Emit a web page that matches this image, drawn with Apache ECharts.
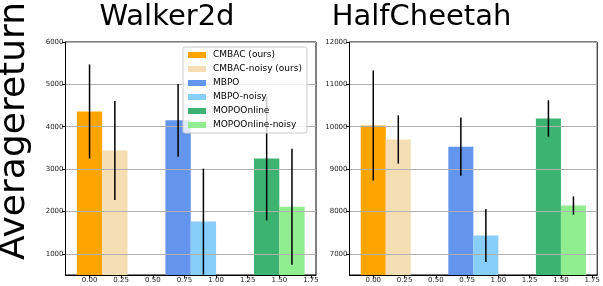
<!DOCTYPE html>
<html>
<head>
<meta charset="utf-8">
<style>
  html, body { margin: 0; padding: 0; background: #fff; }
  #chart { width: 603px; height: 286px; }
</style>
<script src="https://cdn.jsdelivr.net/npm/echarts@6/dist/echarts.min.js"></script>
</head>
<body>
<div id="chart"></div>
<script>
// methods and bar positions (bar width 0.2)
var methods = ['CMBAC (ours)', 'CMBAC-noisy (ours)', 'MBPO', 'MBPO-noisy', 'MOPOOnline', 'MOPOOnline-noisy'];
var colors = ['#FFA500', '#F5DEB3', '#6495ED', '#87CEFA', '#3CB371', '#90EE90'];
var xPos = [0, 0.2, 0.7, 0.9, 1.4, 1.6];
var xTicks = [0, 0.25, 0.5, 0.75, 1, 1.25, 1.5, 1.75];

// Walker2d
var walkerMean = [4360, 3440, 4150, 1760, 3250, 2110];
var walkerErr = [1110, 1170, 860, 1250, 1460, 1370];
var walkerTicks = [1000, 2000, 3000, 4000, 5000, 6000];

// HalfCheetah
var cheetahMean = [10030, 9700, 9530, 7430, 10195, 8140];
var cheetahErr = [1300, 570, 690, 625, 430, 215];
var cheetahTicks = [7000, 8000, 9000, 10000, 11000, 12000];

var BAR_W = 0.2;

var chart = echarts.init(document.getElementById('chart'));

function barItem(params, api) {
    var x = api.value(0), y = api.value(1);
    var p0 = api.coord([x - BAR_W / 2, y]);
    var p1 = api.coord([x + BAR_W / 2, y]);
    var cs = params.coordSys;
    var bottom = cs.y + cs.height;
    return {
        type: 'rect',
        shape: { x: p0[0], y: p0[1], width: p1[0] - p0[0], height: bottom - p0[1] },
        style: { fill: api.visual('color') }
    };
}

function errItem(params, api) {
    var x = api.value(0), m = api.value(1), e = api.value(2);
    var a = api.coord([x, m - e]);
    var b = api.coord([x, m + e]);
    return {
        type: 'line',
        shape: { x1: a[0], y1: a[1], x2: b[0], y2: b[1] },
        style: { stroke: '#000', lineWidth: 1.5 }
    };
}

function xAxisFor(idx) {
    return {
        type: 'value', gridIndex: idx, min: -0.19, max: 1.79, z: 5,
        axisLine: { show: true, onZero: false, lineStyle: { color: '#000', width: 1 } },
        axisTick: { show: true, customValues: xTicks, length: 3.5, lineStyle: { color: '#000' } },
        axisLabel: {
            customValues: xTicks, fontSize: 7, color: '#222', margin: 2,
            fontFamily: 'DejaVu Sans',
            formatter: function (v) { return v.toFixed(2); }
        },
        splitLine: { show: false }
    };
}

function yAxisFor(idx, mn, mx, ticks) {
    return {
        type: 'value', gridIndex: idx, min: mn, max: mx, z: 5,
        axisLine: { show: true, onZero: false, lineStyle: { color: '#000', width: 1 } },
        axisTick: { show: true, customValues: ticks, length: 3.5, lineStyle: { color: '#000' } },
        axisLabel: {
            customValues: ticks, fontSize: 7, color: '#222', margin: 2, fontFamily: 'DejaVu Sans',
            formatter: function (v) { return String(v); }
        },
        splitLine: { show: true, lineStyle: { color: '#b0b0b0', width: 1 } }
    };
}

var series = [];
var charts = [[walkerMean, walkerErr], [cheetahMean, cheetahErr]];
charts.forEach(function (c, gi) {
    methods.forEach(function (name, i) {
        series.push({
            type: 'custom', name: name, xAxisIndex: gi, yAxisIndex: gi,
            color: colors[i], z: 2, clip: true,
            renderItem: barItem,
            data: [[xPos[i], c[0][i]]]
        });
    });
    series.push({
        type: 'custom', name: 'err' + gi, xAxisIndex: gi, yAxisIndex: gi,
        z: 6, clip: true, silent: true,
        renderItem: errItem,
        data: xPos.map(function (x, i) { return [x, c[0][i], c[1][i]]; })
    });
});

var option = {
    animation: false,
    textStyle: { fontFamily: 'DejaVu Sans' },
    grid: [
        { left: 65.5, top: 42, width: 250.5, height: 233, show: true, borderColor: '#000', borderWidth: 1, backgroundColor: 'transparent' },
        { left: 349.5, top: 42, width: 249.5, height: 233, show: true, borderColor: '#000', borderWidth: 1, backgroundColor: 'transparent' }
    ],
    xAxis: [xAxisFor(0), xAxisFor(1)],
    yAxis: [yAxisFor(0, 500, 6000, walkerTicks), yAxisFor(1, 6500, 12000, cheetahTicks)],
    legend: {
        orient: 'vertical', left: 183, top: 47, z: 10,
        data: methods.map(function (m) { return { name: m, icon: 'rect' }; }),
        itemWidth: 18, itemHeight: 6, itemGap: 4,
        padding: [3, 5, 3, 5],
        backgroundColor: 'rgba(255,255,255,0.8)',
        borderColor: '#cccccc', borderWidth: 1, borderRadius: 2,
        selectedMode: false,
        textStyle: { fontSize: 9, lineHeight: 10, color: '#000', fontFamily: 'DejaVu Sans', padding: [0, 0, 0, 2] }
    },
    graphic: [
        { type: 'text', x: 167, y: 17.5, style: { text: 'Walker2d', font: '29px "DejaVu Sans"', fill: '#000', textAlign: 'center', textVerticalAlign: 'middle' } },
        { type: 'text', x: 421.5, y: 17.5, style: { text: 'HalfCheetah', font: '29px "DejaVu Sans"', fill: '#000', textAlign: 'center', textVerticalAlign: 'middle' } },
        { type: 'text', x: 14.5, y: 131, rotation: Math.PI / 2, style: { text: 'Averagereturn', font: '36px "DejaVu Sans"', fill: '#000', textAlign: 'center', textVerticalAlign: 'middle' } }
    ],
    series: series
};

chart.setOption(option);
</script>
</body>
</html>
